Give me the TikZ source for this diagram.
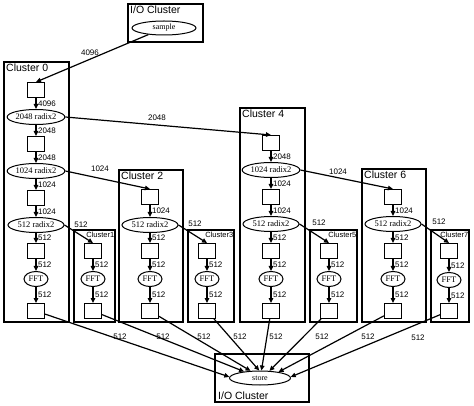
\documentclass[tikz,border=0pt]{standalone}
\usepackage{fontspec}
\setmainfont{Liberation Serif}
\newfontfamily\lsans{Liberation Sans}
\usetikzlibrary{shapes.geometric,arrows.meta}
\newcommand\vedge[3]{\draw[edge] (#1) -- node[lab,right] (lab-#1) {#3} (#2);}
\begin{document}
\begin{tikzpicture}[x=1pt,y=-1pt,
  sq/.style={draw, line width=1pt, minimum width=17pt, minimum height=15pt, inner sep=0pt},
  el/.style={draw, ellipse, line width=1pt, inner sep=0pt, font=\fontsize{8.5}{9}\selectfont},
  wide/.style={el, minimum width=56pt, minimum height=15pt},
  fft/.style={el, minimum width=24pt, minimum height=15pt},
  io/.style={el, minimum width=64pt, minimum height=14pt, font=\fontsize{8}{9}\selectfont},
  clbox/.style={draw, line width=1.5pt},
  big/.style={font=\lsans\fontsize{10.5}{11}\selectfont, inner sep=1pt},
  small/.style={font=\lsans\fontsize{7.5}{8}\selectfont, inner sep=0.5pt},
  edge/.style={line width=1.2pt, -{Triangle[length=5pt,width=4.5pt]}},
  lab/.style={font=\lsans\fontsize{8}{9}\selectfont, inner sep=1.5pt},
]
\useasboundingbox (0,0) rectangle (474,406);

% cluster boxes
\draw[clbox] (128,4) rectangle (203,42);
\node[big, anchor=north west] (ioT) at (129,5) {I/O Cluster};
\draw[clbox] (4,62) rectangle (69,322);
\node[big, anchor=north west] (cl0) at (5,63) {Cluster 0};
\draw[clbox] (74,230) rectangle (115,322);
\node[small, anchor=north east] (cl1) at (115,231) {Cluster1};
\draw[clbox] (119,170) rectangle (183,322);
\node[big, anchor=north west] (cl2) at (120,171) {Cluster 2};
\draw[clbox] (188,230) rectangle (234,322);
\node[small, anchor=north east] (cl3) at (234,231) {Cluster3};
\draw[clbox] (240,108) rectangle (305,322);
\node[big, anchor=north west] (cl4) at (241,109) {Cluster 4};
\draw[clbox] (310,230) rectangle (357,322);
\node[small, anchor=north east] (cl5) at (357,231) {Cluster5};
\draw[clbox] (362,169) rectangle (426,322);
\node[big, anchor=north west] (cl6) at (363,170) {Cluster 6};
\draw[clbox] (431,230) rectangle (469,322);
\node[small, anchor=north east] (cl7) at (469,231) {Cluster7};
\draw[clbox] (215,354) rectangle (309,402);
\node[big, anchor=south west] (ioB) at (217,401) {I/O Cluster};

% nodes
\node[io] (sample) at (164,28) {sample};
\node[io, minimum width=61pt] (store) at (260,378) {store};

\node[sq] (c0a) at (36,90) {};
\node[wide, minimum width=57pt] (c0b) at (36,117) {2048 radix2};
\node[sq] (c0c) at (36,144) {};
\node[wide] (c0d) at (36,171) {1024 radix2};
\node[sq] (c0e) at (36,198) {};
\node[wide] (c0f) at (36,225) {512 radix2};
\node[sq] (c0g) at (36,251) {};
\node[fft] (c0h) at (36,279) {FFT};
\node[sq] (c0i) at (36,311) {};

\node[sq] (c1a) at (93,251) {};
\node[fft] (c1b) at (93,279) {FFT};
\node[sq] (c1c) at (93,311) {};

\node[sq] (c2a) at (150,197) {};
\node[wide] (c2b) at (150,225) {512 radix2};
\node[sq] (c2c) at (150,251) {};
\node[fft] (c2d) at (150,279) {FFT};
\node[sq] (c2e) at (150,311) {};

\node[sq] (c3a) at (207,251) {};
\node[fft] (c3b) at (207,279) {FFT};
\node[sq] (c3c) at (207,311) {};

\node[sq] (c4a) at (271,143) {};
\node[wide] (c4b) at (271,170) {1024 radix2};
\node[sq] (c4c) at (271,197) {};
\node[wide] (c4d) at (271,224) {512 radix2};
\node[sq] (c4e) at (271,251) {};
\node[fft] (c4f) at (271,279) {FFT};
\node[sq] (c4g) at (271,311) {};

\node[sq] (c5a) at (329,251) {};
\node[fft] (c5b) at (329,279) {FFT};
\node[sq] (c5c) at (329,311) {};

\node[sq] (c6a) at (393,197) {};
\node[wide] (c6b) at (393,224) {512 radix2};
\node[sq] (c6c) at (393,251) {};
\node[fft] (c6d) at (393,279) {FFT};
\node[sq] (c6e) at (393,311) {};

\node[sq] (c7a) at (449,251) {};
\node[fft] (c7b) at (449,280) {FFT};
\node[sq] (c7c) at (449,311) {};

% vertical edges
\vedge{c0a}{c0b}{4096}
\vedge{c0b}{c0c}{2048}
\vedge{c0c}{c0d}{2048}
\vedge{c0d}{c0e}{1024}
\vedge{c0e}{c0f}{1024}
\vedge{c0f}{c0g}{512}
\vedge{c0g}{c0h}{512}
\vedge{c0h}{c0i}{512}
\vedge{c1a}{c1b}{512}
\vedge{c1b}{c1c}{512}
\vedge{c2a}{c2b}{1024}
\vedge{c2b}{c2c}{512}
\vedge{c2c}{c2d}{512}
\vedge{c2d}{c2e}{512}
\vedge{c3a}{c3b}{512}
\vedge{c3b}{c3c}{512}
\vedge{c4a}{c4b}{2048}
\vedge{c4b}{c4c}{1024}
\vedge{c4c}{c4d}{1024}
\vedge{c4d}{c4e}{512}
\vedge{c4e}{c4f}{512}
\vedge{c4f}{c4g}{512}
\vedge{c5a}{c5b}{512}
\vedge{c5b}{c5c}{512}
\vedge{c6a}{c6b}{1024}
\vedge{c6b}{c6c}{512}
\vedge{c6c}{c6d}{512}
\vedge{c6d}{c6e}{512}
\vedge{c7a}{c7b}{512}
\vedge{c7b}{c7c}{512}

% cross edges
\draw[edge] (sample) -- (c0a.north);
\node[lab] (x1) at (90,53) {4096};
\draw[edge] (c0b.east) -- (c4a.north);
\node[lab] (x2) at (157,118) {2048};
\draw[edge] (c0d.east) -- (c2a.north);
\node[lab] (x3) at (100,169) {1024};
\draw[edge] (c0f.east) -- (c1a.north);
\node[lab] (x4) at (81,225) {512};
\draw[edge] (c2b.east) -- (c3a.north);
\node[lab] (x5) at (195,224) {512};
\draw[edge] (c4b.east) -- (c6a.north);
\node[lab] (x6) at (338,172) {1024};
\draw[edge] (c4d.east) -- (c5a.north);
\node[lab] (x7) at (319,223) {512};
\draw[edge] (c6b.east) -- (c7a.north);
\node[lab] (x8) at (439,222) {512};

% to store
\draw[edge] (c0i) -- (store.178);
\node[lab] (s0) at (120,337) {512};
\draw[edge] (c1c) -- (store.158);
\node[lab] (s1) at (163,337) {512};
\draw[edge] (c2e) -- (store.143);
\node[lab] (s2) at (204,337) {512};
\draw[edge] (c3c) -- (store.96);
\node[lab] (s3) at (240,337) {512};
\draw[edge] (c4g) -- (store.79);
\node[lab] (s4) at (276,337) {512};
\draw[edge] (c5c) -- (store.37);
\node[lab] (s5) at (322,337) {512};
\draw[edge] (c6e) -- (store.18);
\node[lab] (s6) at (368,337) {512};
\draw[edge] (c7c) -- (store.2);
\node[lab] (s7) at (418,338) {512};
\end{tikzpicture}
\end{document}
